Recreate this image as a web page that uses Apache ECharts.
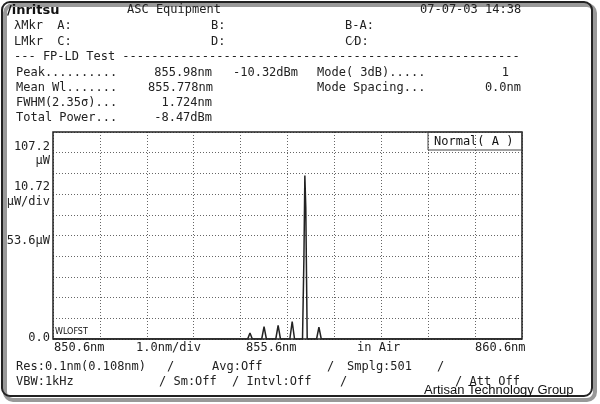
<!DOCTYPE html>
<html><head><meta charset="utf-8">
<script src="https://cdn.jsdelivr.net/npm/echarts@6/dist/echarts.min.js"></script>
<style>html,body{margin:0;padding:0;background:#fff}#c{width:600px;height:404px}</style>
</head><body><div id="c"></div>
<script>
// spectrum trace, wavelength (nm) / power (uW)
var startNm = 850.6, spanNm = 10, fullScale = 107.2;
var traceNm = [850.6, 853.56, 853.6, 853.64, 853.86, 853.9, 853.94, 854.16, 854.2, 854.24, 854.46, 854.5, 854.54,
  854.75, 854.8, 854.85, 855.05, 855.1, 855.15, 855.35, 855.4, 855.45, 855.65, 855.7, 855.75,
  855.92, 855.95, 855.97, 855.99, 856.02, 856.22, 856.27, 856.32, 856.53, 856.57, 856.61, 856.83, 856.87, 856.91, 860.6];
var traceUw = [0, 0, 0.3, 0, 0, 0.5, 0, 0, 0.6, 0, 0, 1.0, 0,
  0, 3.1, 0, 0, 6.4, 0, 0, 7.0, 0, 0, 9.0, 0,
  0, 42, 84.7, 68, 0, 0, 6.2, 0, 0, 0.6, 0, 0, 0.4, 0, 0];

var header = [
  ['ASC Equipment', 127, 10], ['07-07-03 14:38', 420, 10],
  ['λMkr  A:', 14, 26], ['B:', 211, 26], ['B-A:', 345, 26],
  ['LMkr  C:', 14, 42], ['D:', 211, 42], ['C⁄D:', 345, 42],
  ['--- FP-LD Test -------------------------------------------------------', 14, 57],
  ['Peak..........', 16, 73], ['-10.32dBm', 233, 73], ['Mode( 3dB).....', 317, 73],
  ['Mean Wl.......', 16, 88], ['Mode Spacing...', 317, 88],
  ['FWHM(2.35σ)...', 16, 103], ['Total Power...', 16, 118],
  ['850.6nm', 54, 348], ['1.0nm/div', 136, 348], ['855.6nm', 246, 348], ['in Air', 357, 348], ['860.6nm', 475, 348],
  ['Res:0.1nm(0.108nm)', 16, 367], ['/', 167, 367], ['Avg:Off', 212, 367], ['/', 327, 367], ['Smplg:501', 347, 367], ['/', 437, 367],
  ['VBW:1kHz', 16, 382], ['/ Sm:Off', 159, 382], ['/ Intvl:Off', 232, 382], ['/', 340, 382], ['/ Att Off', 455, 382]
];
var rightText = [
  ['855.98nm', 212, 73], ['1', 509, 73], ['855.778nm', 213, 88], ['0.0nm', 521, 88],
  ['1.724nm', 212, 103], ['-8.47dBm', 212, 118],
  ['107.2', 50, 147], ['µW', 50, 161], ['10.72', 50, 187], ['µW/div', 50, 202], ['53.6µW', 50, 241], ['0.0', 50, 338]
];

var font = '12px "DejaVu Sans Mono", monospace';
var g = [
  {type: 'rect', shape: {x: 5, y: 5, width: 590, height: 395, r: 8}, style: {fill: 'none', stroke: '#999', lineWidth: 4}, z: 0},
  {type: 'rect', shape: {x: 2, y: 2, width: 590, height: 394, r: 8}, style: {fill: 'none', stroke: '#222', lineWidth: 2}, z: 1},
  {type: 'text', left: 7, top: 4, style: {text: '/inritsu', font: 'bold 13px "DejaVu Sans", sans-serif', fill: '#111'}, z: 5},
  {type: 'text', left: 434, top: 136, style: {text: 'Normal( A )', font: font, fill: '#111'}, z: 5},
  {type: 'rect', shape: {x: 428, y: 132, width: 94, height: 18}, style: {fill: 'none', stroke: '#444', lineWidth: 1}, z: 5},
  {type: 'text', left: 55, top: 328, style: {text: 'WLOFST', font: '8px "DejaVu Sans", sans-serif', fill: '#111'}, z: 5},
  {type: 'text', left: 424, top: 384, style: {text: 'Artisan Technology Group', font: '13px "Liberation Sans", Arial, sans-serif', fill: '#111'}, z: 6}
];
header.forEach(function (t) {
  g.push({type: 'text', x: t[1], y: t[2], style: {text: t[0], font: font, fill: '#222', textVerticalAlign: 'middle'}, z: 5});
});
rightText.forEach(function (t) {
  g.push({type: 'text', x: t[1], y: t[2], style: {text: t[0], font: font, fill: '#222', textAlign: 'right', textVerticalAlign: 'middle'}, z: 5});
});

var data = traceNm.map(function (nm, i) { return [nm - startNm, traceUw[i]]; });

var chart = echarts.init(document.getElementById('c'));
chart.setOption({
  animation: false,
  backgroundColor: '#fff',
  grid: {left: 53, right: 78, top: 132, bottom: 65},
  xAxis: {type: 'value', min: 0, max: spanNm, interval: 1,
    axisLine: {show: false}, axisTick: {show: false}, axisLabel: {show: false},
    splitLine: {show: true, lineStyle: {color: '#666', type: [1, 2], width: 1}}},
  yAxis: {type: 'value', min: 0, max: fullScale, interval: 10.72,
    axisLine: {show: false}, axisTick: {show: false}, axisLabel: {show: false},
    splitLine: {show: true, lineStyle: {color: '#666', type: [1, 2], width: 1}}},
  series: [{type: 'line', data: data, symbol: 'none', lineStyle: {color: '#222', width: 1.5}, z: 3}],
  graphic: g.concat([{type: 'rect', shape: {x: 53, y: 132, width: 469, height: 207}, style: {fill: 'none', stroke: '#222', lineWidth: 1.5}, z: 4}])
});
</script></body></html>
